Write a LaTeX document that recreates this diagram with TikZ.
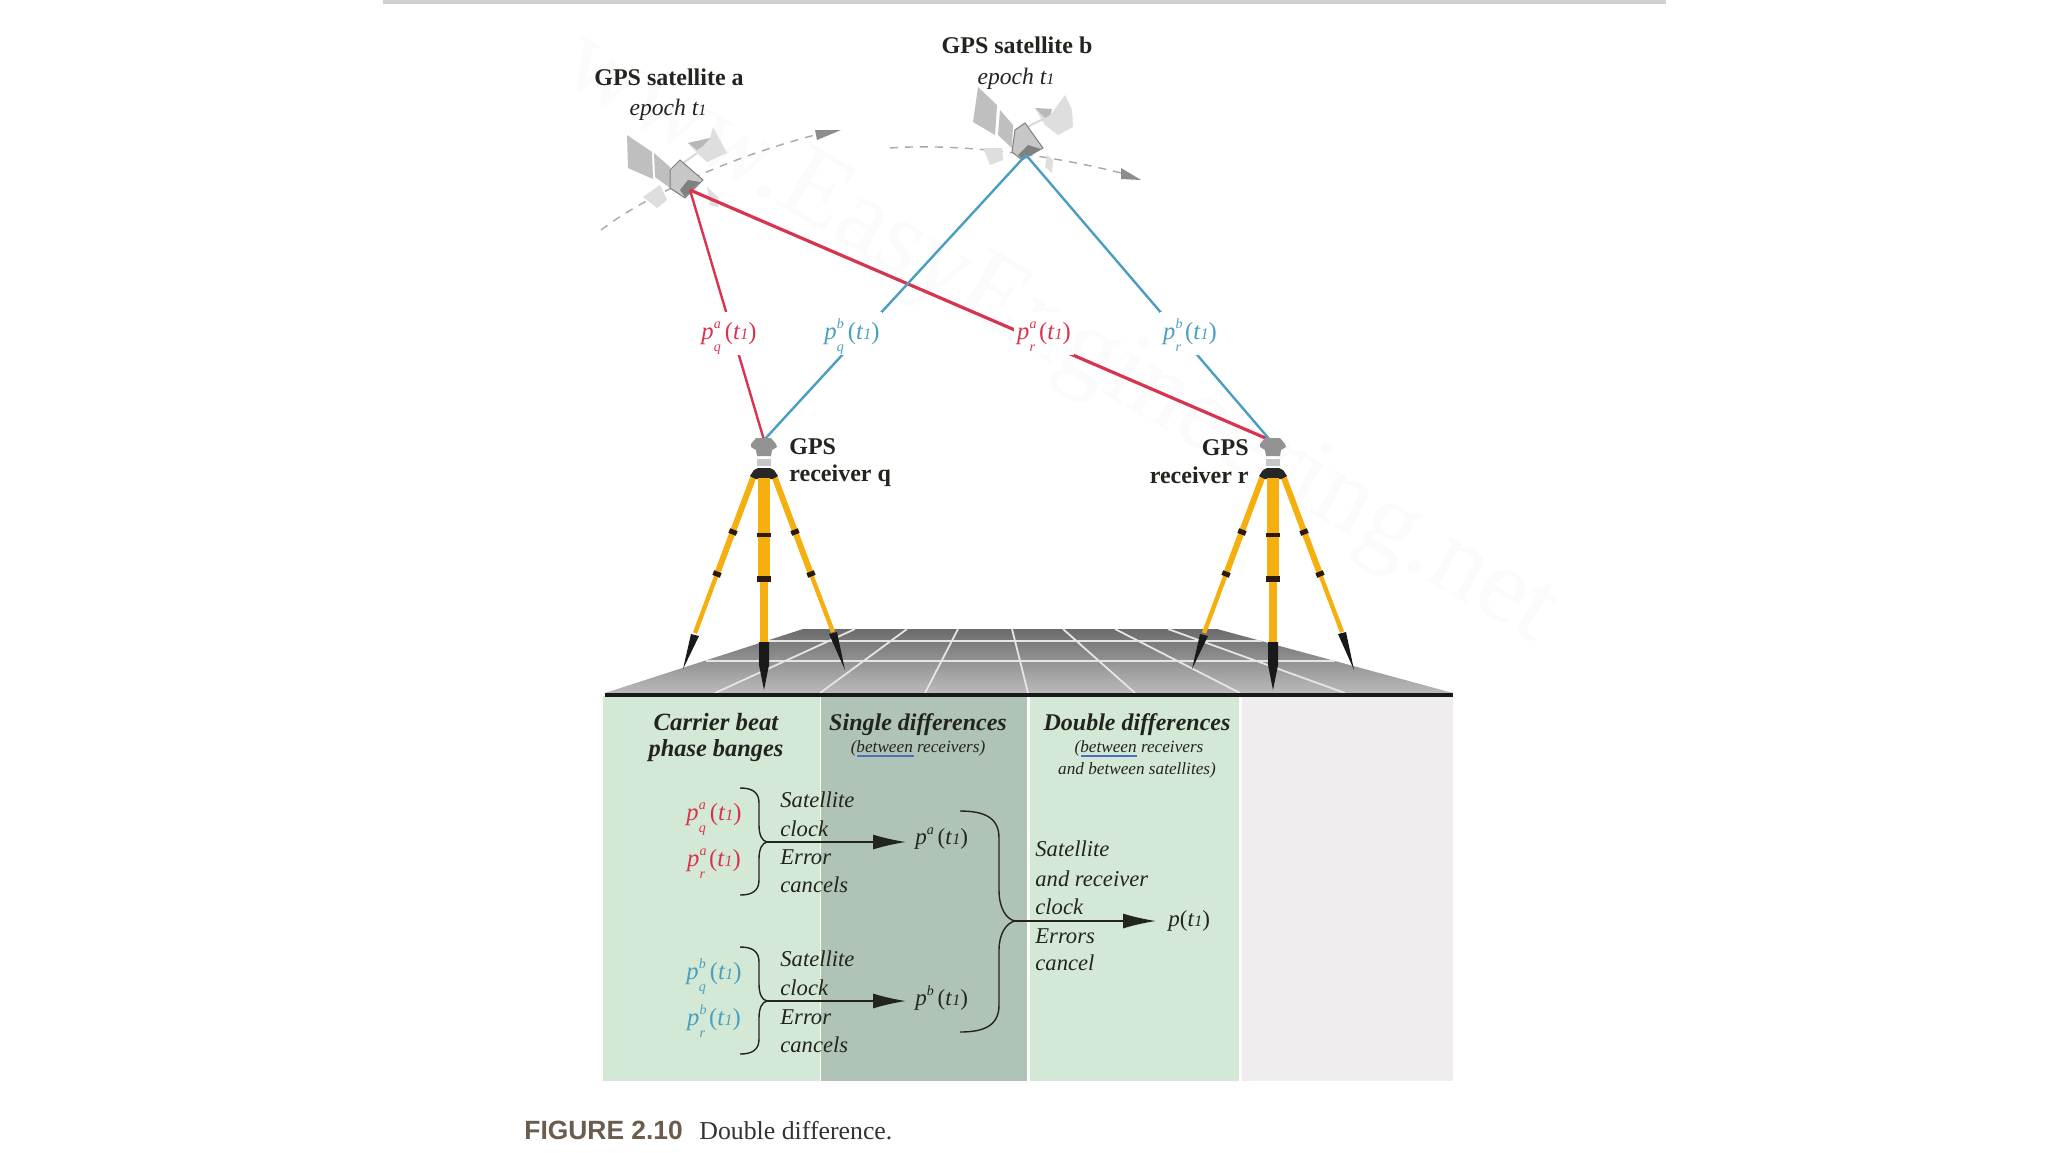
\documentclass[tikz,border=0pt]{standalone}
\usepackage{fontspec}
\setmainfont{Liberation Serif}
\setsansfont{Liberation Sans}
\usetikzlibrary{arrows.meta}
\definecolor{cred}{HTML}{D8344F}
\definecolor{cblue}{HTML}{4A9FC0}
\definecolor{ink}{HTML}{24241F}
\definecolor{pgreen}{HTML}{D3E9D5}
\definecolor{pdark}{HTML}{AFC3B6}
\definecolor{pgray}{HTML}{F0EDEE}
\definecolor{legy}{HTML}{F5B010}
\definecolor{bandc}{HTML}{2B1A10}
\definecolor{orbit}{HTML}{A8A8A8}
\definecolor{ulblue}{HTML}{4A6FC0}
\definecolor{capc}{HTML}{6B5D4D}
\newcommand{\rng}[3]{\textit{p}\rlap{\raisebox{.42em}{\scriptsize\textit{#1}}}\raisebox{-.5em}{\scriptsize\textit{#2}}\,(\textit{t}{\footnotesize\textit{1}})}
\newcommand{\rngs}[1]{\textit{p}\raisebox{.42em}{\scriptsize\textit{#1}}\,(\textit{t}{\footnotesize\textit{1}})}
\newcommand{\tripodq}{%
  \fill[color=gray!85] (751,444)--(756,438)--(771,438)--(776,444)--(777,447)--(772,450)--(771,456)--(757,456)--(756,450)--(751,447)--cycle;
  \fill[color=gray!45] (757,459) rectangle (771,466);
  \fill[black!85] (750,476)--(754,470)--(758,468)--(770,468)--(774,470)--(778,476)--(774,479)--(754,479)--cycle;
  \draw[legy,line width=3pt] (753,478)--(717,574);
  \draw[legy,line width=2.2pt] (717,574)--(695,633);
  \draw[legy,line width=6pt] (764,478)--(764,580);
  \draw[legy,line width=4pt] (764,580)--(764,642);
  \draw[legy,line width=3pt] (775,478)--(811,574);
  \draw[legy,line width=2.2pt] (811,574)--(833,632);
  \fill[bandc] (757,533) rectangle (771,537);
  \fill[bandc] (757,576) rectangle (771,582);
  \draw[bandc,line width=4pt] (733.9,529.7)--(732.1,534.3);
  \draw[bandc,line width=4pt] (717.9,571.7)--(716.1,576.3);
  \draw[bandc,line width=4pt] (794.1,529.7)--(795.9,534.3);
  \draw[bandc,line width=4pt] (810.1,571.7)--(811.9,576.3);
  \fill[black!90] (691,634)--(699,636)--(683,669)--cycle;
  \fill[black!90] (759,642)--(769,642)--(769,665)--(764,690)--(759,665)--cycle;
  \fill[black!90] (829,634)--(837,632)--(845,670)--cycle;
}
\tikzset{
  head/.style={font=\bfseries\itshape\fontsize{12}{14}\selectfont,text=ink,inner sep=0pt,anchor=base},
  subh/.style={font=\itshape\fontsize{8.6}{10}\selectfont,text=ink,inner sep=0pt,anchor=base},
  body/.style={font=\itshape\fontsize{11.3}{13}\selectfont,text=ink,inner sep=0pt,anchor=base west},
  glab/.style={font=\bfseries\fontsize{12}{14}\selectfont,text=ink,inner sep=0pt},
  eplab/.style={font=\itshape\fontsize{11.8}{13}\selectfont,text=ink,inner sep=0pt,anchor=base},
  rlab/.style={font=\fontsize{12.3}{14}\selectfont,text=cred,fill=white,minimum width=30pt,minimum height=21.5pt,inner sep=0pt,text height=10pt,text depth=4pt},
  blab/.style={font=\fontsize{12.3}{14}\selectfont,text=cblue,fill=white,minimum width=30pt,minimum height=21.5pt,inner sep=0pt,text height=10pt,text depth=4pt},
  rplain/.style={font=\fontsize{12.3}{14}\selectfont,text=cred,inner sep=0pt,text height=10pt,text depth=4pt},
  bplain/.style={font=\fontsize{12.3}{14}\selectfont,text=cblue,inner sep=0pt,text height=10pt,text depth=4pt},
  kplain/.style={font=\fontsize{11.5}{13}\selectfont,text=ink,inner sep=0pt,text height=8pt,text depth=3pt},
  redline/.style={cred,line width=1.2pt},
  redthick/.style={cred,line width=1.6pt},
  blueline/.style={cblue,line width=1.2pt},
  brace/.style={ink,line width=.7pt},
  arr/.style={ink,line width=.7pt,-{Latex[length=16.5pt,width=7.5pt]}},
  orb/.style={orbit,line width=.7pt,dash pattern=on 4pt off 3.5pt},
  satpanel/.style={fill=black!25},
  satlight/.style={fill=black!13},
  satbody/.style={fill=black!22,draw=black!50,line width=.5pt},
  ul/.style={ulblue,line width=.8pt},
}
\begin{document}
\begin{tikzpicture}[x=0.5pt,y=-0.5pt]
\useasboundingbox (0,0) rectangle (2048,1152);
\fill[white] (0,0) rectangle (2048,1152);
\fill[black!18] (383,0) rectangle (1666,4);
% watermark
\node[rotate=-30,font=\fontsize{53}{53}\selectfont,text=black!1.5,inner sep=0pt] (wm) at (1058,340) {www.EasyEngineering.net};
% panels
\fill[pgreen] (603,696) rectangle (820,1081);
\fill[pdark] (821,696) rectangle (1027,1081);
\fill[pgreen] (1030,696) rectangle (1239,1081);
\fill[pgray] (1242,696) rectangle (1453,1081);
% ground
\shade[top color=black!58,bottom color=black!27] (803,629)--(1217,629)--(1453,693)--(605,693)--cycle;
\begin{scope}[white!90!black,line width=.9pt]
\draw (767,641)--(1262,641);
\draw (706,661)--(1335,661);
\draw (855,629)--(715,693);
\draw (907,629)--(820,693);
\draw (958,629)--(925,693);
\draw (1012,629)--(1028,693);
\draw (1063,629)--(1135,693);
\draw (1115,629)--(1240,693);
\draw (1168,629)--(1345,693);
\end{scope}
\draw[black!90,line width=2pt] (605,695)--(1453,695);
% orbits
\draw[orb] (601,230) .. controls (640,200) and (720,160) .. (815,135);
\fill[black!45] (815,130)--(841,130)--(817,140)--cycle;
\draw[orb] (890,148) .. controls (960,143) and (1050,155) .. (1121,173);
\fill[black!45] (1121,168)--(1141,180)--(1121,179)--cycle;
% satellite a
\fill[satpanel] (627,135)--(652,152)--(653,179)--(628,168)--cycle;
\fill[satpanel] (654,153)--(670,167)--(670,188)--(655,177)--cycle;
\fill[satlight] (688,143)--(710,138)--(713,127)--(727,153)--(707,162)--(697,153)--cycle;
\fill[black!28] (688,143)--(710,138)--(703,146)--(697,150)--cycle;
\draw[black!15,line width=1pt] (676,168)--(697,153);
\fill[satlight] (643,197)--(660,185)--(667,200)--(657,208)--cycle;
\fill[satlight] (707,187)--(718,197)--(718,207)--(710,205)--cycle;
\fill[satbody] (680,160)--(703,180)--(685,198)--(670,188)--(670,170)--cycle;
\fill[black!50] (688,180)--(700,182)--(685,197)--(680,190)--cycle;
% satellite b
\fill[satpanel] (978,87)--(997,105)--(995,135)--(973,122)--cycle;
\fill[satpanel] (1000,110)--(1013,125)--(1012,148)--(998,135)--cycle;
\fill[satlight] (1035,108)--(1052,113)--(1065,95)--(1072,110)--(1073,127)--(1058,135)--(1045,125)--cycle;
\fill[black!28] (1035,108)--(1052,109)--(1050,115)--(1045,118)--cycle;
\draw[black!15,line width=1pt] (1025,128)--(1045,118);
\fill[satlight] (983,148)--(1002,148)--(1003,160)--(990,165)--cycle;
\fill[satlight] (1047,155)--(1053,160)--(1052,173)--(1045,167)--cycle;
\fill[satbody] (1025,123)--(1043,148)--(1022,160)--(1012,152)--(1015,130)--cycle;
\fill[black!50] (1028,145)--(1041,149)--(1022,159)--(1018,155)--cycle;
% endpoints
\coordinate (sa) at (690,190);
\coordinate (sb) at (1026,155);
\coordinate (rq) at (764,440);
\coordinate (rr) at (1270,440);
% range lines
\draw[redline] (sa) -- (rq);
\draw[redthick] (sa) -- (rr);
\draw[blueline] (sb) -- (rq);
\draw[blueline] (sb) -- (rr);
% labels on lines
\node[rlab] (lqa) at (729,333) {\rng{a}{q}{}};
\node[blab] (lqb) at (852,333) {\rng{b}{q}{}};
\node[rlab] (lra) at (1044,333) {\rng{a}{r}{}};
\node[blab] (lrb) at (1190,333) {\rng{b}{r}{}};
% tripods
\tripodq
\begin{scope}[shift={(509,0)}]
\tripodq
\end{scope}
% titles
\node[glab,anchor=base] (ta) at (669,85) {GPS satellite a};
\node[eplab] (ea) at (668,115) {epoch \textit{t}{\footnotesize 1}};
\node[glab,anchor=base] (tb) at (1017,53) {GPS satellite b};
\node[eplab] (eb) at (1016,84) {epoch \textit{t}{\footnotesize 1}};
\node[glab,anchor=base west] (gq1) at (789,454) {GPS};
\node[glab,anchor=base west] (gq2) at (789,481) {receiver q};
\node[glab,anchor=base east] (gr1) at (1249,455) {GPS};
\node[glab,anchor=base east] (gr2) at (1249,483) {receiver r};
% panel headings
\node[head,font=\bfseries\itshape\fontsize{12.4}{14}\selectfont] (h1a) at (716,730) {Carrier beat};
\node[head,font=\bfseries\itshape\fontsize{12.2}{14}\selectfont] (h1b) at (716,756) {phase banges};
\node[head] (h2) at (918,730) {Single differences};
\node[subh] (s2) at (918,752) {(between receivers)};
\draw[ul] (857,756)--(914,756);
\node[head] (h3) at (1137,730) {Double differences};
\node[subh] (s3a) at (1139,752) {(between receivers};
\node[subh] (s3b) at (1137,774) {and between satellites)};
\draw[ul] (1081,756)--(1137,756);
% first group
\node[rplain] (ra1) at (714,814) {\rng{a}{q}{}};
\node[rplain] (ra2) at (714,860) {\rng{a}{r}{}};
\draw[brace] (740,788) .. controls (752,788) and (759,792) .. (759,803) -- (759,825) .. controls (759,835) and (762,841) .. (767,842) .. controls (762,843) and (759,849) .. (759,859) -- (759,880) .. controls (759,891) and (752,895) .. (740,895);
\coordinate (ta1) at (767,842);
\coordinate (ta2) at (906,842);
\draw[arr] (ta1) -- (ta2);
\node[kplain,anchor=base west] (pa) at (915,844) {\rngs{a}};
\node[body] at (780,807) (b1) {Satellite};
\node[body] at (780,836) (b2) {clock};
\node[body] at (780,864) (b3) {Error};
\node[body] at (780,892) (b4) {cancels};
% second group
\node[bplain] (rb1) at (714,973) {\rng{b}{q}{}};
\node[bplain] (rb2) at (714,1019) {\rng{b}{r}{}};
\draw[brace] (740,947) .. controls (752,947) and (759,951) .. (759,962) -- (759,984) .. controls (759,994) and (762,1000) .. (767,1001) .. controls (762,1002) and (759,1008) .. (759,1018) -- (759,1039) .. controls (759,1050) and (752,1054) .. (740,1054);
\coordinate (tb1) at (767,1001);
\coordinate (tb2) at (906,1001);
\draw[arr] (tb1) -- (tb2);
\node[kplain,anchor=base west] (pb) at (915,1005) {\rngs{b}};
\node[body] at (780,966) (c1) {Satellite};
\node[body] at (780,995) (c2) {clock};
\node[body] at (780,1024) (c3) {Error};
\node[body] at (780,1052) (c4) {cancels};
% big brace
\draw[brace] (960,811) .. controls (985,811) and (999,818) .. (999,838) -- (999,890) .. controls (999,908) and (1006,919) .. (1015,921) .. controls (1006,923) and (999,934) .. (999,950) -- (999,1005) .. controls (999,1025) and (985,1032) .. (960,1032);
\coordinate (tc1) at (1015,921);
\coordinate (tc2) at (1156,921);
\draw[arr] (tc1) -- (tc2);
\node[kplain,anchor=base west] (pc) at (1168,926) {\textit{p}(\textit{t}{\footnotesize\textit{1}})};
\node[body] at (1035,856) (d1) {Satellite};
\node[body] at (1035,886) (d2) {and receiver};
\node[body] at (1035,914) (d3) {clock};
\node[body] at (1035,943) (d4) {Errors};
\node[body] at (1035,970) (d5) {cancel};
% caption
\node[font=\sffamily\bfseries\fontsize{13.2}{15}\selectfont,text=capc,inner sep=0pt,anchor=base west] (cap1) at (524,1139) {FIGURE 2.10};
\node[font=\fontsize{12.9}{15}\selectfont,text=black!80,inner sep=0pt,anchor=base west] (cap2) at (699,1139) {Double difference.};
\end{tikzpicture}
\end{document}
